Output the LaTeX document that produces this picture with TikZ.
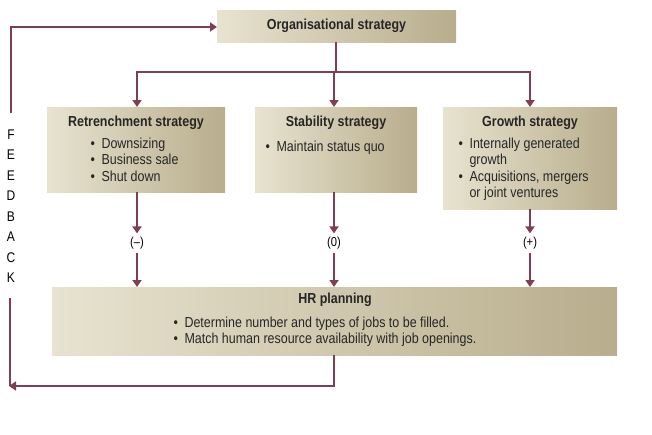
\documentclass[tikz,border=0pt]{standalone}
\usepackage{fontspec}
\setmainfont{Liberation Sans}[FakeStretch=0.86]
\usetikzlibrary{arrows.meta}
\definecolor{maroon}{HTML}{7F3D56}
\definecolor{tanL}{HTML}{E8E3D0}
\definecolor{tanD}{HTML}{B8AD8C}
\tikzset{
  box/.style={draw=none,left color=tanL,right color=tanD,inner sep=0pt},
  conn/.style={draw=maroon,line width=2.6pt,-{Triangle[length=7pt,width=9pt]}},
  plain/.style={draw=maroon,line width=2.6pt},
  ttl/.style={font=\fontsize{14.5}{16}\selectfont\bfseries,text=black!85},
  bod/.style={font=\fontsize{14.5}{16.5}\selectfont,text=black!85,align=left},
}
\newcommand{\bl}{\makebox[11pt][l]{•}}
\begin{document}
\begin{tikzpicture}[x=1pt,y=-1pt]
\useasboundingbox (0,0) rectangle (652,434);
% boxes
\path[box] (217,10) rectangle (456,42);
\node[ttl] (org) at (336.5,26) {Organisational strategy};
\coordinate (orgB) at (336,42);
\coordinate (orgL) at (217,27);

\path[box] (47,107) rectangle (225,192);
\coordinate (retT) at (137,107); \coordinate (retB) at (137,192);
\node[ttl] (rett) at (136,123) {Retrenchment strategy};
\node[bod,anchor=north west] (retb) at (87,134) {\bl Downsizing\\\bl Business sale\\\bl Shut down};

\path[box] (255,107) rectangle (417,192);
\coordinate (stT) at (334,107); \coordinate (stB) at (334,192);
\node[ttl] (stt) at (336,123) {Stability strategy};
\node[bod,anchor=north west] (stb) at (262,137) {\bl Maintain status quo};

\path[box] (443,107) rectangle (617,209);
\coordinate (grT) at (530,107); \coordinate (grB) at (530,209);
\node[ttl] (grt) at (530,123) {Growth strategy};
\node[bod,anchor=north west] (grb) at (455,134) {\bl Internally generated\\\hspace*{11pt}growth\\\bl Acquisitions, mergers\\\hspace*{11pt}or joint ventures};

\path[box] (52,287) rectangle (617,355);
\node[ttl] (hrt) at (335,300) {HR planning};
\node[bod,anchor=north west] (hrb) at (170,313) {\bl Determine number and types of jobs to be filled.\\\bl Match human resource availability with job openings.};
\coordinate (hrB) at (334,355);

% labels
\node[font=\fontsize{13}{14}\selectfont] (m) at (137,243) {(–)};
\node[font=\fontsize{13}{14}\selectfont] (z) at (334,243) {(0)};
\node[font=\fontsize{13}{14}\selectfont] (p) at (530,243) {(+)};

% connectors
\draw[plain] (orgB) -- (336,72);
\draw[plain] (137,72) -- (530,72);
\draw[conn] (137,71) -- (retT);
\draw[conn] (334,71) -- (stT);
\draw[conn] (530,71) -- (grT);
\draw[conn] (retB) -- (m.north);
\draw[conn] (m.south) -- (137,287);
\draw[conn] (stB) -- (z.north);
\draw[conn] (z.south) -- (334,287);
\draw[conn] (grB) -- (p.north);
\draw[conn] (p.south) -- (530,287);

% feedback
\draw[conn] (hrB) -- (334,386) -- (9,386);
\draw[plain] (10,386) -- (10,298);
\node[font=\fontsize{14}{20.5}\selectfont,align=center] (fb) at (11,206) {F\\E\\E\\D\\B\\A\\C\\K};
\draw[conn] (11,113) -- (11,27) -- (orgL);
\end{tikzpicture}
\end{document}
